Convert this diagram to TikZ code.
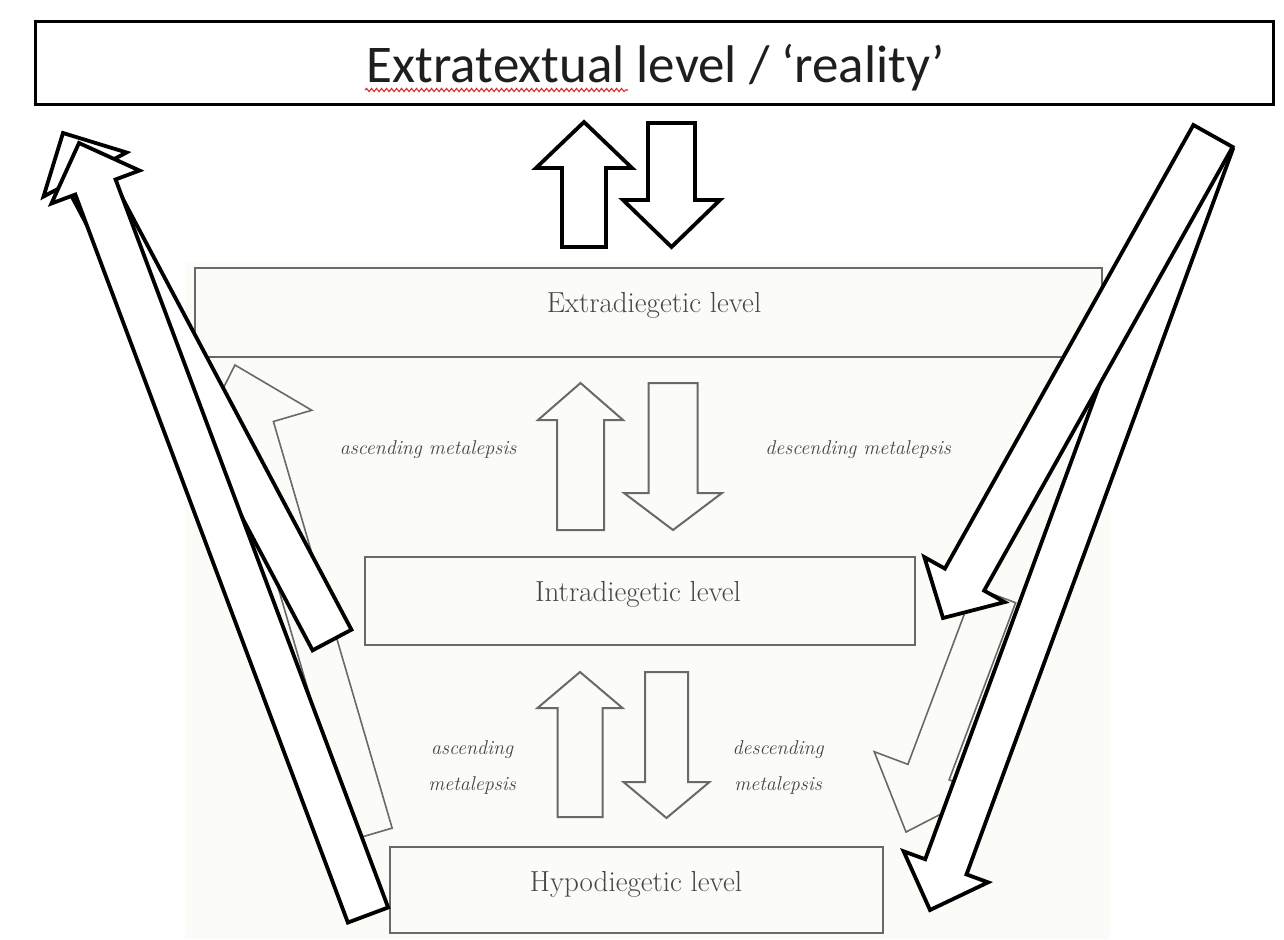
\documentclass[tikz,border=0pt]{standalone}
\usepackage{fontspec}
\newfontfamily\calfont{Carlito}
\usetikzlibrary{calc,decorations.pathmorphing}
\definecolor{scanbg}{RGB}{251,251,247}
\definecolor{scanline}{RGB}{105,105,105}
\definecolor{scantext}{RGB}{70,70,70}
\definecolor{squig}{RGB}{215,45,45}
\newcommand\blkarrow[6]{%
  \path ($(#3)!#6!(#2)$) coordinate (#3-h);
  \draw[#1] ($(#2)!#4!90:(#3)$) -- ($(#3-h)!#4!90:(#3)$) -- ($(#3-h)!#5!90:(#3)$) -- (#3)
    -- ($(#3-h)!#5!-90:(#3)$) -- ($(#3-h)!#4!-90:(#3)$) -- ($(#2)!#4!-90:(#3)$) -- cycle;}
\begin{document}
\begin{tikzpicture}[x=1pt,y=-1pt,
  blk/.style={draw=black, fill=white, line width=3.8pt, line join=miter, miter limit=4},
  gry/.style={draw=scanline, fill=scanbg, line width=1.6pt, line join=miter},
  midarr/.style={draw=scanline, fill=scanbg, line width=2pt, line join=miter},
  scanbox/.style={draw=scanline, line width=2.4pt, fill=scanbg, inner sep=0pt},
  topbox/.style={draw=black, line width=3pt, fill=white, inner sep=0pt},
  lvl/.style={font=\fontsize{29}{32}\selectfont, text=scantext, inner sep=0pt},
  meta/.style={font=\itshape\fontsize{20}{36}\selectfont, text=scantext, align=center, inner sep=0pt},
  ]
\useasboundingbox (0,0) rectangle (1284,939);
\fill[white] (0,0) rectangle (1284,939);
% scanned page area
\fill[scanbg] (185,262) rectangle (1110,939);

% level boxes of the scan
\node[scanbox, minimum width=907pt, minimum height=89pt] (extrabox) at (648.5,312.5) {};
\node[lvl] (extratext) at (654,305) {Extradiegetic level};
\node[scanbox, minimum width=550pt, minimum height=88pt] (intrabox) at (640,601) {};
\node[lvl] (intratext) at (638,594) {Intradiegetic level};
\node[scanbox, minimum width=493pt, minimum height=86pt] (hypobox) at (636.5,890) {};
\node[lvl] (hypotext) at (636,884) {Hypodiegetic level};

% grey arrows of the scan
\coordinate (L3a) at (372,834); \coordinate (L3b) at (235,365);
\blkarrow{gry}{L3a}{L3b}{21pt}{61pt}{65pt}
\coordinate (R3a) at (995,595); \coordinate (R3b) at (906,832);
\blkarrow{gry}{R3a}{R3b}{22pt}{58pt}{64pt}

\coordinate (MUa) at (580.5,530); \coordinate (MUb) at (580.5,383);
\blkarrow{midarr}{MUa}{MUb}{23.5pt}{42.5pt}{37pt}
\coordinate (MDa) at (673,383); \coordinate (MDb) at (673,530);
\blkarrow{midarr}{MDa}{MDb}{24.5pt}{49pt}{37pt}
\coordinate (LUa) at (580,817); \coordinate (LUb) at (580,672);
\blkarrow{midarr}{LUa}{LUb}{22.5pt}{42.5pt}{36pt}
\coordinate (LDa) at (666.5,672); \coordinate (LDb) at (666.5,818);
\blkarrow{midarr}{LDa}{LDb}{21.5pt}{43pt}{36pt}

\node[meta] (asc1) at (428,450) {ascending metalepsis};
\node[meta] (desc1) at (858,450) {descending metalepsis};
\node[meta] (asc2) at (472,767) {ascending\\metalepsis};
\node[meta] (desc2) at (778,767) {descending\\metalepsis};

% extratextual level
\node[topbox, minimum width=1238pt, minimum height=83pt] (topbox) at (654,63.5) {};
\node[anchor=base, inner sep=0pt, text={rgb,255:red,30;green,30;blue,30},
      font=\calfont\fontsize{53}{60}\selectfont] (toptext) at (656,83) {Extratextual level / ‘reality’};
\draw[squig, line width=1.1pt, decorate, decoration={snake, amplitude=1.6pt, segment length=5pt}]
  (365,90) -- (628,90);

\coordinate (TUa) at (584,247); \coordinate (TUb) at (584,122);
\blkarrow{blk}{TUa}{TUb}{22pt}{48pt}{46pt}
\coordinate (TDa) at (671.5,123); \coordinate (TDb) at (671.5,247);
\blkarrow{blk}{TDa}{TDb}{23.5pt}{48.5pt}{47pt}

% long black arrows
\coordinate (L2a) at (332,640); \coordinate (L2b) at (63,133);
\blkarrow{blk}{L2a}{L2b}{22pt}{47pt}{47pt}
\coordinate (L1a) at (368,915); \coordinate (L1b) at (79,143);
\blkarrow{blk}{L1a}{L1b}{21.5pt}{47pt}{47pt}
\coordinate (R2a) at (1212,142); \coordinate (R2b) at (930,910);
\blkarrow{blk}{R2a}{R2b}{22pt}{45pt}{46pt}
\coordinate (R1a) at (1213,136); \coordinate (R1b) at (943,618);
\blkarrow{blk}{R1a}{R1b}{22.5pt}{46pt}{44pt}
\end{tikzpicture}
\end{document}
